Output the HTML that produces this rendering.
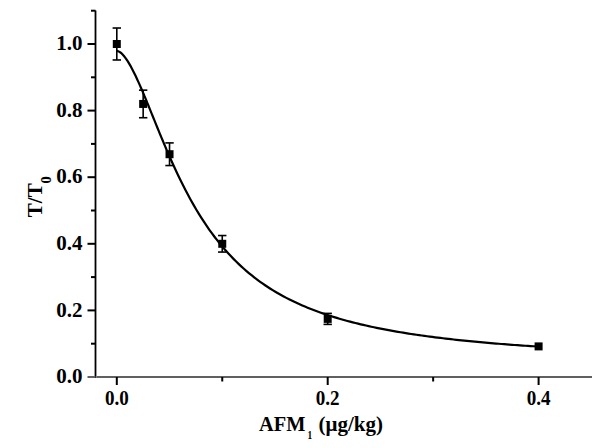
<!DOCTYPE html>
<html><head><meta charset="utf-8"><style>
html,body{margin:0;padding:0;background:#fff;width:603px;height:448px;overflow:hidden}
svg{display:block}
.t{font-family:"Liberation Serif",serif;font-weight:bold;font-size:21px;fill:#000}
.tt{font-family:"Liberation Serif",serif;font-weight:bold;font-size:21px;fill:#000}
.sub1{font-family:"Liberation Serif",serif;font-weight:bold;font-size:12px;fill:#000}
.sub0{font-size:14.5px}
</style></head><body>
<svg width="603" height="448" viewBox="0 0 603 448">
<line x1="95.5" y1="10.4" x2="95.5" y2="378" stroke="#000" stroke-width="1.8"/>
<line x1="96.5" y1="377" x2="592" y2="377" stroke="#606060" stroke-width="2.2"/>
<line x1="87.5" y1="377.00" x2="95.5" y2="377.00" stroke="#606060" stroke-width="2"/>
<text x="82.5" y="383.20" text-anchor="end" class="t">0.0</text>
<line x1="91.0" y1="343.70" x2="95.5" y2="343.70" stroke="#000" stroke-width="2"/>
<line x1="87.5" y1="310.40" x2="95.5" y2="310.40" stroke="#000" stroke-width="2"/>
<text x="82.5" y="316.60" text-anchor="end" class="t">0.2</text>
<line x1="91.0" y1="277.10" x2="95.5" y2="277.10" stroke="#000" stroke-width="2"/>
<line x1="87.5" y1="243.80" x2="95.5" y2="243.80" stroke="#000" stroke-width="2"/>
<text x="82.5" y="250.00" text-anchor="end" class="t">0.4</text>
<line x1="91.0" y1="210.50" x2="95.5" y2="210.50" stroke="#000" stroke-width="2"/>
<line x1="87.5" y1="177.20" x2="95.5" y2="177.20" stroke="#000" stroke-width="2"/>
<text x="82.5" y="183.40" text-anchor="end" class="t">0.6</text>
<line x1="91.0" y1="143.90" x2="95.5" y2="143.90" stroke="#000" stroke-width="2"/>
<line x1="87.5" y1="110.60" x2="95.5" y2="110.60" stroke="#000" stroke-width="2"/>
<text x="82.5" y="116.80" text-anchor="end" class="t">0.8</text>
<line x1="91.0" y1="77.30" x2="95.5" y2="77.30" stroke="#000" stroke-width="2"/>
<line x1="87.5" y1="44.00" x2="95.5" y2="44.00" stroke="#000" stroke-width="2"/>
<text x="82.5" y="50.20" text-anchor="end" class="t">1.0</text>
<line x1="91.0" y1="10.70" x2="95.5" y2="10.70" stroke="#000" stroke-width="2"/>
<line x1="116.80" y1="377" x2="116.80" y2="385" stroke="#000" stroke-width="2"/>
<text transform="translate(116.80,405) scale(0.94,1)" text-anchor="middle" class="t" style="font-size:20.3px">0.0</text>
<line x1="222.25" y1="377" x2="222.25" y2="381.5" stroke="#000" stroke-width="2"/>
<line x1="327.70" y1="377" x2="327.70" y2="385" stroke="#000" stroke-width="2"/>
<text transform="translate(327.70,405) scale(0.94,1)" text-anchor="middle" class="t" style="font-size:20.3px">0.2</text>
<line x1="433.15" y1="377" x2="433.15" y2="381.5" stroke="#000" stroke-width="2"/>
<line x1="538.60" y1="377" x2="538.60" y2="385" stroke="#000" stroke-width="2"/>
<text transform="translate(538.60,405) scale(0.94,1)" text-anchor="middle" class="t" style="font-size:20.3px">0.4</text>
<polyline points="116.80,50.91 117.69,51.06 118.59,51.39 119.48,51.87 120.37,52.48 121.27,53.20 122.16,54.04 123.06,54.97 123.95,56.00 124.84,57.12 125.74,58.32 126.63,59.60 127.52,60.95 128.42,62.38 129.31,63.87 130.20,65.42 131.10,67.03 131.99,68.70 132.89,70.42 133.78,72.18 134.67,74.00 135.57,75.85 136.46,77.74 137.35,79.67 138.25,81.64 139.14,83.64 140.03,85.66 140.93,87.71 141.82,89.79 142.72,91.88 143.61,94.00 144.50,96.13 145.40,98.28 146.29,100.44 147.18,102.61 148.08,104.79 148.97,106.98 149.86,109.17 150.76,111.37 151.65,113.58 152.55,115.78 153.44,117.98 154.33,120.19 155.23,122.39 156.12,124.59 157.01,126.78 157.91,128.96 158.80,131.14 159.69,133.32 160.59,135.48 161.48,137.63 162.38,139.78 163.27,141.91 164.16,144.03 165.06,146.14 165.95,148.24 166.84,150.32 167.74,152.39 168.63,154.44 169.53,156.48 172.18,162.45 174.84,168.27 177.49,173.94 180.15,179.46 182.80,184.81 185.46,190.01 188.11,195.05 190.77,199.92 193.42,204.64 196.08,209.20 198.73,213.60 201.39,217.86 204.04,221.97 206.70,225.93 209.35,229.76 212.01,233.45 214.66,237.01 217.32,240.44 219.97,243.75 222.63,246.95 225.28,250.03 227.94,253.00 230.59,255.87 233.25,258.63 235.91,261.30 238.56,263.88 241.22,266.36 243.87,268.76 246.53,271.08 249.18,273.31 251.84,275.47 254.49,277.56 257.15,279.58 259.80,281.53 262.46,283.41 265.11,285.24 267.77,287.00 270.42,288.70 273.08,290.35 275.73,291.95 278.39,293.50 281.04,295.00 283.70,296.45 286.35,297.85 289.01,299.21 291.66,300.54 294.32,301.82 296.98,303.06 299.63,304.26 302.29,305.43 304.94,306.57 307.60,307.67 310.25,308.74 312.91,309.78 315.56,310.79 318.22,311.77 320.87,312.72 323.53,313.65 326.18,314.55 328.84,315.43 331.49,316.28 334.15,317.11 336.80,317.92 339.46,318.71 342.11,319.47 344.77,320.22 347.42,320.95 350.08,321.65 352.73,322.35 355.39,323.02 358.05,323.67 360.70,324.31 363.36,324.94 366.01,325.55 368.67,326.14 371.32,326.72 373.98,327.29 376.63,327.84 379.29,328.38 381.94,328.91 384.60,329.42 387.25,329.92 389.91,330.41 392.56,330.89 395.22,331.36 397.87,331.82 400.53,332.27 403.18,332.71 405.84,333.14 408.49,333.56 411.15,333.97 413.80,334.37 416.46,334.77 419.12,335.15 421.77,335.53 424.43,335.90 427.08,336.26 429.74,336.61 432.39,336.96 435.05,337.30 437.70,337.63 440.36,337.96 443.01,338.28 445.67,338.59 448.32,338.90 450.98,339.20 453.63,339.50 456.29,339.79 458.94,340.07 461.60,340.35 464.25,340.63 466.91,340.90 469.56,341.16 472.22,341.42 474.87,341.67 477.53,341.92 480.19,342.17 482.84,342.41 485.50,342.64 488.15,342.88 490.81,343.10 493.46,343.33 496.12,343.55 498.77,343.76 501.43,343.98 504.08,344.19 506.74,344.39 509.39,344.59 512.05,344.79 514.70,344.99 517.36,345.18 520.01,345.37 522.67,345.55 525.32,345.73 527.98,345.91 530.63,346.09 533.29,346.26 535.94,346.44 538.60,346.60" fill="none" stroke="#000" stroke-width="2.2"/>
<line x1="116.80" y1="28.02" x2="116.80" y2="59.98" stroke="#000" stroke-width="1.6"/>
<line x1="112.60" y1="28.02" x2="121.00" y2="28.02" stroke="#000" stroke-width="1.6"/>
<line x1="112.60" y1="59.98" x2="121.00" y2="59.98" stroke="#000" stroke-width="1.6"/>
<rect x="112.80" y="40.00" width="8" height="8" fill="#000"/>
<line x1="143.16" y1="90.15" x2="143.16" y2="117.73" stroke="#000" stroke-width="1.6"/>
<line x1="138.96" y1="90.15" x2="147.36" y2="90.15" stroke="#000" stroke-width="1.6"/>
<line x1="138.96" y1="117.73" x2="147.36" y2="117.73" stroke="#000" stroke-width="1.6"/>
<rect x="139.16" y="99.94" width="8" height="8" fill="#000"/>
<line x1="169.53" y1="142.90" x2="169.53" y2="165.54" stroke="#000" stroke-width="1.6"/>
<line x1="165.33" y1="142.90" x2="173.72" y2="142.90" stroke="#000" stroke-width="1.6"/>
<line x1="165.33" y1="165.54" x2="173.72" y2="165.54" stroke="#000" stroke-width="1.6"/>
<rect x="165.53" y="150.22" width="8" height="8" fill="#000"/>
<line x1="222.25" y1="235.54" x2="222.25" y2="252.06" stroke="#000" stroke-width="1.6"/>
<line x1="218.05" y1="235.54" x2="226.45" y2="235.54" stroke="#000" stroke-width="1.6"/>
<line x1="218.05" y1="252.06" x2="226.45" y2="252.06" stroke="#000" stroke-width="1.6"/>
<rect x="218.25" y="239.80" width="8" height="8" fill="#000"/>
<line x1="327.70" y1="313.40" x2="327.70" y2="324.39" stroke="#000" stroke-width="1.6"/>
<line x1="323.50" y1="313.40" x2="331.90" y2="313.40" stroke="#000" stroke-width="1.6"/>
<line x1="323.50" y1="324.39" x2="331.90" y2="324.39" stroke="#000" stroke-width="1.6"/>
<rect x="323.70" y="314.89" width="8" height="8" fill="#000"/>
<rect x="534.60" y="342.40" width="8" height="8" fill="#000"/>
<text transform="translate(259,431.4) scale(0.97,1)" x="0" y="0" class="tt">AFM</text>
<text transform="translate(307.4,439.3) scale(0.78,1)" class="sub1">1</text>
<text x="318.5" y="431.4" class="tt">(μg/kg)</text>
<g transform="translate(42.1,217.2) rotate(-90)"><text x="0" y="0" class="tt">T/T<tspan class="sub0" dx="-0.1" dy="8.4">0</tspan></text></g>
</svg></body></html>
